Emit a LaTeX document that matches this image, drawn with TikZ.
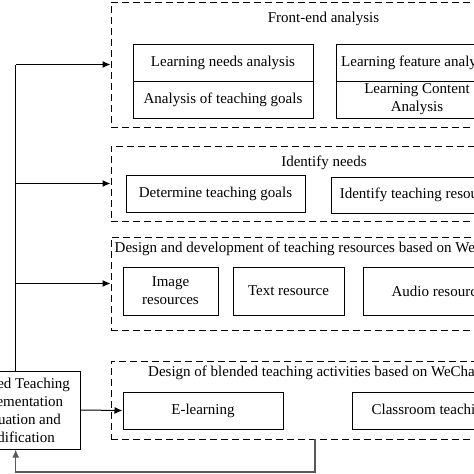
\documentclass[tikz,border=0pt]{standalone}
\usepackage{fontspec}
\setmainfont{Liberation Serif}
\usetikzlibrary{arrows.meta}
\begin{document}
\begin{tikzpicture}[x=1pt,y=-1pt,
  every node/.style={font=\fontsize{15}{18}\selectfont},
  grp/.style={draw,dash pattern=on 7pt off 4pt,line width=1pt,inner sep=0pt,minimum width=425pt},
  bx/.style={draw,line width=1pt,inner sep=0pt,align=center},
  ttl/.style={inner sep=0pt},
  arr/.style={line width=1pt,-{Latex[length=8pt,width=7pt]}},
  ln/.style={line width=1pt}]
\useasboundingbox (0,0) rectangle (474,474);
\clip (0,0) rectangle (474,474);
% group frames
\node[grp,minimum height=125pt] (fe) at (323.5,64.5) {};
\node[grp,minimum height=75pt] (idn) at (323.5,183.5) {};
\node[grp,minimum height=93pt] (dd) at (323.5,283.5) {};
\node[grp,minimum height=78pt] (bd) at (323.5,400) {};
% titles
\node[ttl] (t1) at (323.5,19) {Front-end analysis};
\node[ttl] (t2) at (324,163) {Identify needs};
\node[ttl,anchor=west] (t3) at (114.5,249) {Design and development of teaching resources based on WeChat};
\node[ttl,anchor=west] (t4) at (148,373) {Design of blended teaching activities based on WeChat};
% front-end boxes
\node[bx,minimum width=180pt,minimum height=37pt] (lna) at (223,62.5) {Learning needs analysis};
\node[bx,minimum width=180pt,minimum height=37pt] (atg) at (223,99.5) {Analysis of teaching goals};
\node[bx,minimum width=162pt,minimum height=37pt] (lfa) at (417,62.5) {Learning feature analysis};
\node[bx,minimum width=162pt,minimum height=37pt] (lca) at (417,99.5) {Learning Content\\Analysis};
% identify needs boxes
\node[bx,minimum width=179pt,minimum height=37pt] (dtg) at (215.5,193.5) {Determine teaching goals};
\node[bx,minimum width=180pt,minimum height=36pt] (itr) at (421,195) {Identify teaching resources};
% resources
\node[bx,minimum width=95pt,minimum height=48pt] (ir) at (170.5,291) {Image\\resources};
\node[bx,minimum width=111pt,minimum height=48pt] (tr) at (288.5,291) {Text resource};
\node[bx,minimum width=155pt,minimum height=48pt] (ar) at (440.5,291) {Audio resources};
% blended
\node[bx,minimum width=160pt,minimum height=37pt] (el) at (203,410.5) {E-learning};
\node[bx,minimum width=158pt,minimum height=37pt] (ct) at (431,410.5) {Classroom teaching};
% left box
\node[bx,minimum width=128.6pt,minimum height=78pt] (lb) at (15.7,410) {Blended Teaching\\Implementation\\Evaluation and\\Modification};
% connectors
\coordinate (j1) at (15.7,64.5);
\coordinate (j2) at (15.7,183.5);
\coordinate (j3) at (15.7,283.5);
\draw[ln] (lb.north) -- (j1);
\draw[arr] (j1) -- (fe.west);
\draw[arr] (j2) -- (idn.west);
\draw[arr] (j3) -- (dd.west);
\draw[arr] (lb.east) -- (el.west);
\coordinate (f1) at (315,439);
\coordinate (f2) at (315,472);
\draw[arr,draw=black!65,line width=1.4pt] (f1) -- (f2) -| (lb.south);
\end{tikzpicture}
\end{document}
